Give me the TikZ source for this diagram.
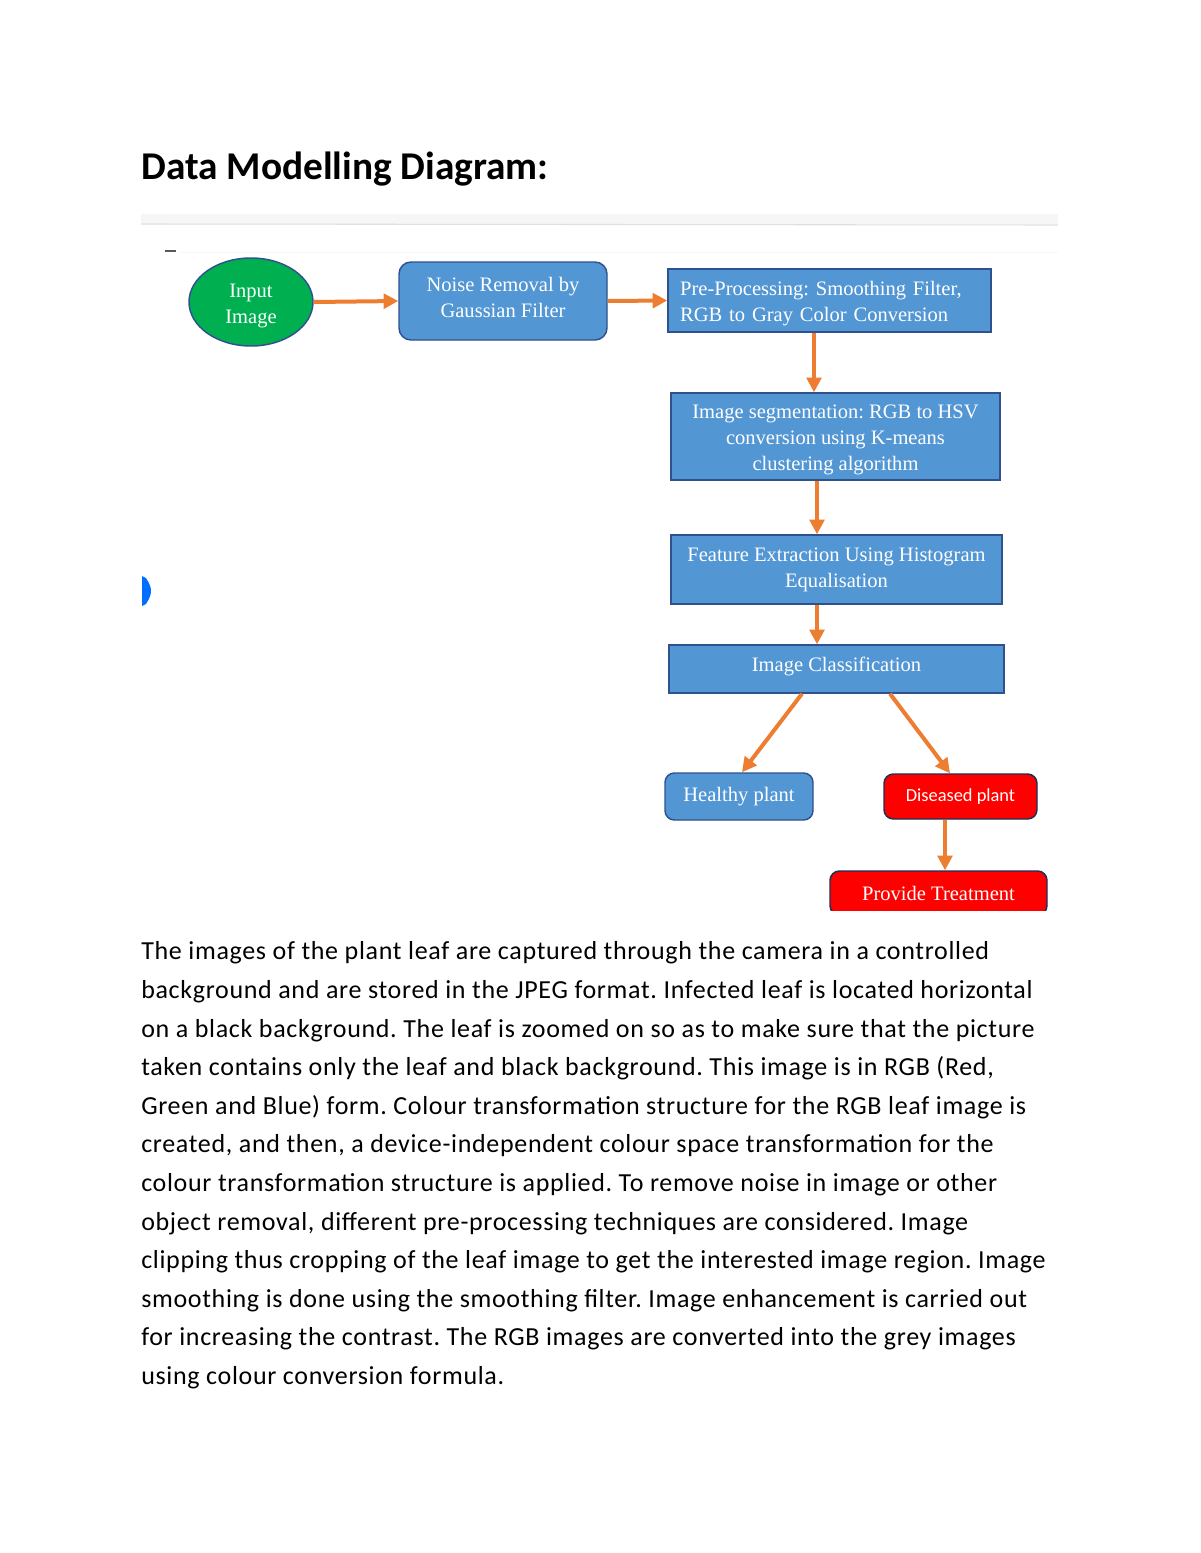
\documentclass[tikz,border=0pt]{standalone}
\usepackage{fontspec}
\setmainfont{Carlito}
\newfontfamily\bodyfont[LetterSpace=2.6]{Carlito}
\newfontfamily\boxserif{Liberation Serif}
\usetikzlibrary{arrows.meta,shapes.geometric}
\definecolor{boxblue}{RGB}{83,150,212}
\definecolor{navy}{RGB}{47,82,143}
\definecolor{leafgreen}{RGB}{0,176,80}
\definecolor{arrorange}{RGB}{237,125,49}
\definecolor{markblue}{RGB}{0,110,255}
\definecolor{alertred}{RGB}{255,0,0}
\frenchspacing
\newcommand{\cstack}[2][0pt]{\raisebox{#1}[\height][\depth]{\begin{tabular}{@{}c@{}}#2\end{tabular}}}
\newcommand{\lstack}[2][0pt]{\raisebox{#1}[\height][\depth]{\begin{tabular}{@{}l@{}}#2\end{tabular}}}
\begin{document}
\begin{tikzpicture}[x=0.75pt,y=-0.75pt,
  boxtxt/.style={text=white, font=\boxserif\fontsize{15.4}{19.5}\selectfont, align=center, inner sep=0pt},
  bluebox/.style={boxtxt, draw=navy, line width=1.1pt, fill=boxblue},
  redbox/.style={boxtxt, draw=navy!60!black, line width=1.1pt, fill=alertred, rounded corners=7pt},
  arr/.style={draw=arrorange, line width=3pt, -{Triangle[length=11pt,width=11pt]}},
  bodyline/.style={anchor=base west, inner sep=0pt, font=\bodyfont\fontsize{19.5}{22}\selectfont}
]
\useasboundingbox (0,0) rectangle (1200,1553);
\fill[white] (0,0) rectangle (1200,1553);

% title and rule
\node[anchor=base west, inner sep=0pt, font=\bfseries\fontsize{29.5}{32}\selectfont] (title) at (141,179) {Data Modelling Diagram:};
\fill[gray!7] (141,214) rectangle (1058,224);
\draw[gray!25, line width=0.8pt] (141,224) -- (1058,225);
\draw[gray!70!black, line width=1.4pt] (165,251) -- (176,251);
\draw[gray!6, line width=0.6pt] (180,252) -- (1058,252);
\fill[markblue] (142,576) -- (146,578) .. controls (150,584) and (151,588) .. (151,591) .. controls (151,594) and (150,598) .. (146,604) -- (142,606) -- cycle;

% column coordinates
\coordinate (x742) at (742,0);
\coordinate (x802) at (802,0);
\coordinate (x814) at (814,0);
\coordinate (x817) at (817,0);
\coordinate (x890) at (890,0);
\coordinate (x945) at (945,0);
\coordinate (x950) at (950,0);

% nodes
\node[ellipse, boxtxt, draw=navy, line width=1.1pt, fill=leafgreen, minimum width=93pt, minimum height=66pt] (inp) at (251,302) {\cstack[-2.25pt]{Input\\Image}};
\node[bluebox, rounded corners=9pt, minimum width=156pt, minimum height=58.5pt] (noise) at (503,301) {\cstack[1.5pt]{Noise Removal by\\Gaussian Filter}};
\node[bluebox, align=left, text width=224pt, minimum width=242.25pt, minimum height=47.25pt] (pre) at (829.5,300.5) {\lstack[-2.25pt]{Pre-Processing: Smoothing Filter,\\RGB to Gray Color Conversion}};
\node[bluebox, minimum width=246.75pt, minimum height=65.25pt] (seg) at (835.5,436.5) {\cstack[-2.25pt]{Image segmentation: RGB to HSV\\conversion using K-means\\clustering algorithm}};
\node[bluebox, minimum width=248.25pt, minimum height=51.75pt] (feat) at (836.5,569.5) {\cstack{Feature Extraction Using Histogram\\Equalisation}};
\node[bluebox, minimum width=251.25pt, minimum height=36pt] (cls) at (836.5,669) {\cstack[2.25pt]{Image Classification}};
\node[bluebox, rounded corners=7pt, minimum width=111pt, minimum height=35.25pt] (hp) at (739,796.5) {Healthy plant};
\node[redbox, font=\fontsize{13.8}{16}\selectfont, minimum width=114.75pt, minimum height=33.75pt] (dis) at (960.5,796.5) {Diseased plant};
\begin{scope}
\clip (0,0) rectangle (1200,910);
\node[redbox, minimum width=162.75pt, minimum height=33pt] (treat) at (938.5,893) {Provide Treatment};
\end{scope}

% connectors
\draw[arr] (inp.east) -- (noise.west);
\draw[arr] (noise.east) -- (pre.west);
\draw[arr] (pre.south -| x814) -- (seg.north -| x814);
\draw[arr] (seg.south -| x817) -- (feat.north -| x817);
\draw[arr] (feat.south -| x817) -- (cls.north -| x817);
\draw[arr] (cls.south -| x802) -- (hp.north -| x742);
\draw[arr] (cls.south -| x890) -- (dis.north -| x950);
\draw[arr] (dis.south -| x945) -- (treat.north -| x945);

% body text
\node[bodyline] (l1) at (141,959) {The images of the plant leaf are captured through the camera in a controlled};
\node[bodyline] (l2) at (141,998) {background and are stored in the JPEG format. Infected leaf is located horizontal};
\node[bodyline] (l3) at (141,1037) {on a black background. The leaf is zoomed on so as to make sure that the picture};
\node[bodyline] (l4) at (141,1075) {taken contains only the leaf and black background. This image is in RGB (Red,};
\node[bodyline] (l5) at (141,1114) {Green and Blue) form. Colour transformation structure for the RGB leaf image is};
\node[bodyline] (l6) at (141,1152) {created, and then, a device-independent colour space transformation for the};
\node[bodyline] (l7) at (141,1191) {colour transformation structure is applied. To remove noise in image or other};
\node[bodyline] (l8) at (141,1230) {object removal, different pre-processing techniques are considered. Image};
\node[bodyline] (l9) at (141,1268) {clipping thus cropping of the leaf image to get the interested image region. Image};
\node[bodyline] (l10) at (141,1307) {smoothing is done using the smoothing filter. Image enhancement is carried out};
\node[bodyline] (l11) at (141,1345) {for increasing the contrast. The RGB images are converted into the grey images};
\node[bodyline] (l12) at (141,1384) {using colour conversion formula.};
\end{tikzpicture}
\end{document}
